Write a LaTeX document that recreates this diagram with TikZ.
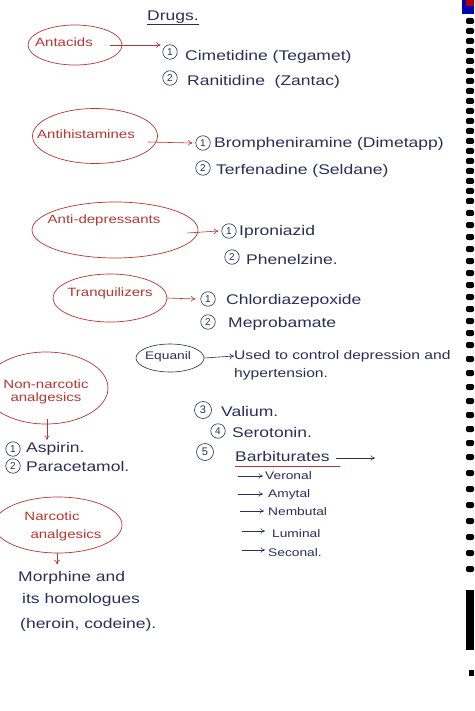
\documentclass[tikz,border=0pt]{standalone}
\usepackage{fontspec}
\setmainfont{Liberation Sans}
\usetikzlibrary{shapes.geometric,arrows.meta}
\definecolor{ink}{RGB}{45,45,90}
\definecolor{pen}{RGB}{180,55,50}
\newcommand{\hw}[1]{\scalebox{1.25}[1]{#1}}
\begin{document}
\begin{tikzpicture}[x=1pt,y=-1pt,
  txt/.style={text=ink, font=\fontsize{14}{16}\selectfont, inner sep=0pt, anchor=west},
  lab/.style={text=pen, font=\fontsize{12}{14}\selectfont, inner sep=0pt, align=center},
  oval/.style={ellipse, draw=pen, line width=0.7pt, inner sep=0pt},
  num/.style={circle, draw=ink, line width=0.6pt, inner sep=0pt, minimum size=14.5pt, font=\fontsize{10}{11}\selectfont, text=ink},
  arr/.style={-{To[length=4.5pt,width=5.5pt]}, line width=0.6pt},
  rarr/.style={arr, draw=pen},
  karr/.style={arr, draw=ink}]
\useasboundingbox (0,0) rectangle (474,711);
\fill[white] (0,0) rectangle (474,711);
% binding strip
\fill[blue!70!black] (462,0) rectangle (474,14);
\fill[red!70!black] (466,0) rectangle (474,6);
\foreach \yy in {18,28,38,48,58,68,78,88,98,108,118,128,138,148,158,168,178,188,198,210,222,234,246,258,270,282,294,306,318,330,342,356,370,384,398,412,426,440,454,470,486,502,518,534,550,566}
  \fill[black, rounded corners=2pt] (466,\yy) rectangle (474,\yy+6);
\fill[black] (466,590) rectangle (474,650);
\fill[black] (469,670) rectangle (474,676);
% title
\node[txt, anchor=center] (title) at (173,18) {\hw{\underline{Drugs.}}};
% Antacids
\node[oval, minimum width=94pt, minimum height=40pt] (antov) at (75,45) {};
\node[lab] (ant) at (64,42) {\hw{Antacids}};
\node[num] (a1) at (170,52) {1};
\node[txt] (a1t) at (185,57) {\hw{Cimetidine (Tegamet)}};
\node[num] (a2) at (170,78) {2};
\node[txt] (a2t) at (187,82) {\hw{Ranitidine \ (Zantac)}};
\draw[rarr] ([xshift=-12pt]antov.east) -- ([xshift=-4pt]a1.north west |- antov.east);
% Antihistamines
\node[oval, minimum width=125pt, minimum height=55pt] (ahov) at (95,136) {};
\node[lab] (ah) at (86,134) {\hw{Antihistamines}};
\node[num] (h1) at (203,143) {1};
\node[txt] (h1t) at (214,144) {\hw{Brompheniramine (Dimetapp)}};
\node[num] (h2) at (203,168) {2};
\node[txt] (h2t) at (216,171) {\hw{Terfenadine (Seldane)}};
\draw[rarr] ([xshift=-10pt,yshift=-6pt]ahov.east) -- ([xshift=-3pt]h1.west);
% Anti-depressants
\node[oval, minimum width=166pt, minimum height=56pt] (adov) at (115,230) {};
\node[lab] (ad) at (104,220) {\hw{Anti-depressants}};
\node[num] (d1) at (229,231) {1};
\node[txt] (d1t) at (239,232) {\hw{Iproniazid}};
\node[num] (d2) at (232,257) {2};
\node[txt] (d2t) at (246,259) {\hw{Phenelzine.}};
\draw[rarr] ([xshift=-11pt,yshift=-3pt]adov.east) -- ([xshift=-3pt]d1.west);
% Tranquilizers
\node[oval, minimum width=114pt, minimum height=48pt] (trov) at (110,298) {};
\node[lab] (tr) at (110,293) {\hw{Tranquilizers}};
\node[num] (t1) at (208,299) {1};
\node[txt] (t1t) at (226,301) {\hw{Chlordiazepoxide}};
\node[num] (t2) at (208,322) {2};
\node[txt] (t2t) at (228,324) {\hw{Meprobamate}};
\draw[rarr] (trov.east) -- ([xshift=-5pt]t1.west);
% Equanil
\node[ellipse, draw=ink, line width=0.6pt, minimum width=68pt, minimum height=28pt, inner sep=0pt] (eqov) at (170,358) {};
\node[txt, anchor=center, font=\fontsize{11}{13}\selectfont] (eq) at (168,357) {\hw{Equanil}};
\node[txt, font=\fontsize{12.5}{14}\selectfont] (eqt1) at (234,356) {\hw{Used to control depression and}};
\node[txt, font=\fontsize{12.5}{14}\selectfont] (eqt2) at (234,374) {\hw{hypertension.}};
\draw[karr] (eqov.east) -- (eqt1.west);
% Non-narcotic
\node[oval, minimum width=124pt, minimum height=72pt] (nnov) at (46,388) {};
\node[lab] (nn) at (46,392) {\hw{Non-narcotic}\\[-1pt]\hw{analgesics}};
\node[num] (n1) at (13,449) {1};
\node[txt] (n1t) at (26,449) {\hw{Aspirin.}};
\node[num] (n2) at (13,466) {2};
\node[txt] (n2t) at (26,466) {\hw{Paracetamol.}};
\draw[rarr] (47,419) -- (47,440);
% list 3-5
\node[num, minimum size=17pt, font=\fontsize{11}{12}\selectfont] (v3) at (203,410) {3};
\node[txt] (v3t) at (221,411) {\hw{Valium.}};
\node[num] (v4) at (218,431) {4};
\node[txt] (v4t) at (232,432) {\hw{Serotonin.}};
\node[num, minimum size=17pt, font=\fontsize{11}{12}\selectfont] (v5) at (205,452) {5};
\node[txt] (v5t) at (235,456) {\hw{Barbiturates}};
\draw[pen, line width=0.7pt] (235,466) -- (340,466);
\coordinate (b0) at (375,458);
\draw[karr] ([xshift=6pt,yshift=-2pt]v5t.east) -- (b0);
\node[txt, font=\fontsize{11}{13}\selectfont] (b1) at (265,476) {\hw{Veronal}};
\node[txt, font=\fontsize{11}{13}\selectfont] (b2) at (268,495) {\hw{Amytal}};
\node[txt, font=\fontsize{11}{13}\selectfont] (b3) at (268,512) {\hw{Nembutal}};
\node[txt, font=\fontsize{11}{13}\selectfont] (b4) at (272,534) {\hw{Luminal}};
\node[txt, font=\fontsize{11}{13}\selectfont] (b5) at (268,553) {\hw{Seconal.}};
\coordinate (s1) at (238,476);
\coordinate (s2) at (238,494);
\coordinate (s3) at (240,511);
\coordinate (s4) at (242,531);
\coordinate (s5) at (242,550);
\draw[karr] (s1) -- ([xshift=-2pt]s1 -| b1.west);
\draw[karr] (s2) -- ([xshift=-5pt]s2 -| b2.west);
\draw[karr] (s3) -- ([xshift=-4pt]s3 -| b3.west);
\draw[karr] (s4) -- ([xshift=-7pt]s4 -| b4.west);
\draw[karr] (s5) -- ([xshift=-3pt]s5 -| b5.west);
% Narcotic
\node[oval, minimum width=128pt, minimum height=56pt] (nrov) at (58,525) {};
\node[lab] (nr1) at (52,516) {\hw{Narcotic}};
\node[lab] (nr2) at (66,535) {\hw{analgesics}};
\node[txt] (m1) at (18,578) {\hw{Morphine and}};
\node[txt] (m2) at (22,600) {\hw{its homologues}};
\node[txt] (m3) at (20,625) {\hw{(heroin, codeine).}};
\draw[rarr] ([xshift=-1pt]nrov.south) -- ++(0,11);
\end{tikzpicture}
\end{document}
